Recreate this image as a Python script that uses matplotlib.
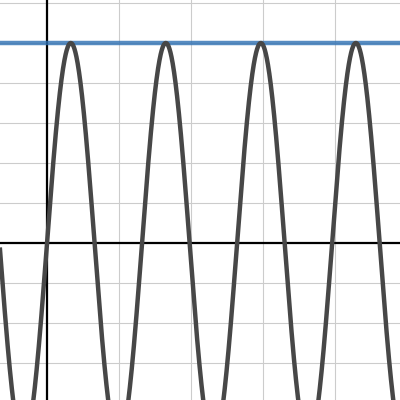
import numpy as np
import matplotlib

matplotlib.use("Agg")
import matplotlib.pyplot as plt

# curve parameters (grid: 1 unit x = 72 px, 1 unit y = 40 px)
amplitude = 5.0
period = 1.32
level = 5.0
x_range = (-0.653, 4.903)
y_range = (-3.925, 6.075)
grid_x = [-1, 0, 1, 2, 3, 4, 5]
grid_y = [-4, -3, -2, -1, 0, 1, 2, 3, 4, 5, 6]

fig = plt.figure(figsize=(4, 4), dpi=100)
ax = fig.add_axes([0, 0, 1, 1])
ax.set_xlim(*x_range)
ax.set_ylim(*y_range)
ax.axis("off")

for gx in grid_x:
    ax.axvline(gx, color="#cccccc", lw=0.8, zorder=0)
for gy in grid_y:
    ax.axhline(gy, color="#cccccc", lw=0.8, zorder=0)
ax.axvline(0, color="black", lw=1.6, zorder=1)
ax.axhline(0, color="black", lw=1.6, zorder=1)

xs = np.linspace(x_range[0], x_range[1], 2000)
ax.plot(xs, amplitude * np.sin(2 * np.pi * xs / period), color="#474747", lw=3.2, zorder=3)
ax.axhline(level, color="#2d70b3", lw=3.2, alpha=0.8, zorder=2)

fig.savefig("out.png", dpi=100)
